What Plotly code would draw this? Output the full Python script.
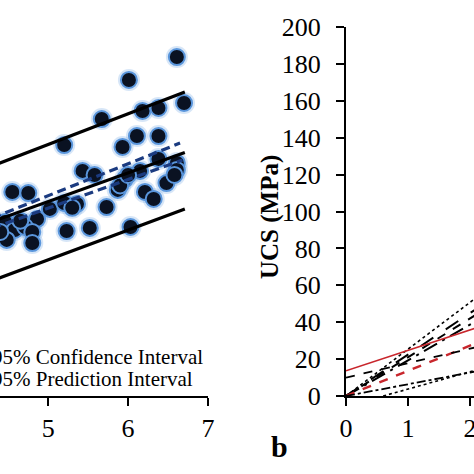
import plotly.graph_objects as go

# ---------------- data: panel a (scatter) ----------------
pts_x = [6.61, 6.01, 6.18, 6.38, 6.70, 5.67, 5.20, 6.11, 6.38, 5.93, 5.43, 5.58,
         6.15, 6.38, 6.61, 6.61, 6.48, 5.96, 5.87, 6.21, 6.32, 5.73, 4.55, 4.75,
         5.02, 5.20, 5.36, 4.86, 4.46, 4.58, 4.71, 4.80, 4.80, 5.23, 5.52, 6.03,
         4.48, 4.40, 5.90, 6.00, 6.58, 5.30, 4.65]
pts_y = [183.7, 171.3, 154.5, 156.1, 158.8, 150.1, 136.0, 140.9, 140.9, 135.0, 122.0, 119.8,
         122.0, 128.5, 126.3, 122.5, 115.4, 117.6, 111.7, 110.6, 106.8, 102.4, 110.6, 110.0,
         101.4, 104.6, 104.1, 95.9, 94.3, 90.0, 91.6, 88.9, 82.9, 89.4, 91.1, 91.6,
         84.6, 88.9, 114.1, 119.8, 119.8, 102.0, 95.0]

fit_x = [4.30, 6.71]
fit_y = [94.5, 132.0]
conf_up_x = [4.30, 6.65]
conf_up_y = [96.5, 137.1]
conf_lo_x = [4.30, 6.68]
conf_lo_y = [91.0, 127.9]
pred_up_x = [4.30, 6.71]
pred_up_y = [124.7, 164.8]
pred_lo_x = [4.30, 6.71]
pred_lo_y = [62.5, 101.4]

legend_labels = ["95% Confidence Interval", "95% Prediction Interval"]

# ---------------- data: panel b (UCS lines) ----------------
b_lines = [
    # name, x endpoints, y endpoints, color, dash, width
    ("dotted upper", [0, 2.2], [0, 55.8], "black", "dot", 1.6),
    ("long dash", [0, 2.2], [0, 49.4], "black", "longdash", 2.0),
    ("dash", [0, 2.2], [0, 46.2], "black", "dash", 2.0),
    ("dash-dot", [0, 2.2], [0, 42.5], "black", "longdashdot", 2.0),
    ("red solid", [0, 2.2], [13.7, 38.0], "#c8262c", "solid", 1.6),
    ("red dashed", [0, 2.2], [0, 30.0], "#c8262c", "dash", 2.4),
    ("black dashed", [0, 2.2], [10.0, 27.2], "black", "dash", 1.8),
    ("lower dash-dot", [0, 2.2], [0, 14.0], "black", "dashdot", 1.8),
    ("dotted lower", [0.6, 2.2], [0, 15.0], "black", "dot", 1.6),
]

y_ticks = [0, 20, 40, 60, 80, 100, 120, 140, 160, 180, 200]
b_x_ticks = [0, 1, 2]
a_x_ticks = [4, 5, 6, 7]

FONT = "Liberation Serif"
W = H = 474

def px(v):
    return v / W

def py(v):
    return (H - v) / H

fig = go.Figure()

# glow behind markers
fig.add_trace(go.Scatter(x=pts_x, y=pts_y, mode="markers", xaxis="x", yaxis="y",
                         marker=dict(size=22, color="rgba(110,165,225,0.28)", line=dict(width=0)),
                         hoverinfo="skip", showlegend=False))
fig.add_trace(go.Scatter(x=pts_x, y=pts_y, mode="markers", xaxis="x", yaxis="y",
                         marker=dict(size=16, color="#0a1222", line=dict(width=2.0, color="#5a96dc")),
                         showlegend=False))

for xs, ys, col, dash, w in [
    (pred_up_x, pred_up_y, "black", "solid", 3.2),
    (pred_lo_x, pred_lo_y, "black", "solid", 3.2),
    (fit_x, fit_y, "black", "solid", 3.2),
    (conf_up_x, conf_up_y, "#1b3b80", "9px,5px", 3.2),
    (conf_lo_x, conf_lo_y, "#1b3b80", "9px,5px", 3.2),
]:
    fig.add_trace(go.Scatter(x=xs, y=ys, mode="lines", xaxis="x", yaxis="y",
                             line=dict(color=col, dash=dash, width=w), showlegend=False))

for name, xs, ys, col, dash, w in b_lines:
    fig.add_trace(go.Scatter(x=xs, y=ys, mode="lines", xaxis="x2", yaxis="y2", name=name,
                             line=dict(color=col, dash=dash, width=w), showlegend=False))

ydom = [py(396), py(27)]

axis_common = dict(showgrid=False, zeroline=False, showline=True, linecolor="black",
                   linewidth=2, ticks="outside", ticklen=8, tickwidth=2, tickcolor="black",
                   automargin=False, ticklabeloverflow="allow",
                   tickfont=dict(family=FONT, size=26, color="black"))

fig.update_layout(
    width=W, height=H, margin=dict(l=0, r=0, t=0, b=0, pad=0, autoexpand=False),
    font=dict(family=FONT, color="black"),
    paper_bgcolor="white", plot_bgcolor="white", showlegend=False,
    xaxis=dict(domain=[0, px(208)], range=[4.396, 7.0], tickvals=a_x_ticks,
               anchor="y", **axis_common),
    yaxis=dict(domain=ydom, range=[0, 200], visible=False, anchor="x", automargin=False),
    xaxis2=dict(domain=[px(346), 1.0], range=[0, 2.065], tickvals=b_x_ticks,
                anchor="y2", **axis_common),
    yaxis2=dict(domain=ydom, range=[0, 200], tickvals=y_ticks, anchor="x2",
                ticklabelstandoff=10, **axis_common),
)

annotations = [
    dict(text=legend_labels[0], x=205, y=py(357)),
    dict(text=legend_labels[1], x=195, y=py(379)),
]
for a in annotations:
    fig.add_annotation(text=a["text"], x=px(a["x"]), y=a["y"], xref="paper", yref="paper",
                       xanchor="right", yanchor="middle", showarrow=False,
                       font=dict(family=FONT, size=21, color="black"))

fig.add_annotation(text="<b>UCS (MPa)</b>", x=px(270), y=py(217), xref="paper", yref="paper",
                   textangle=-90, showarrow=False, xanchor="center", yanchor="middle",
                   font=dict(family=FONT, size=25, color="black"))
fig.add_annotation(text="<b>b</b>", x=px(279), y=py(446), xref="paper", yref="paper",
                   showarrow=False, xanchor="center", yanchor="middle",
                   font=dict(family=FONT, size=30, color="black"))

fig.write_html("out.html")
